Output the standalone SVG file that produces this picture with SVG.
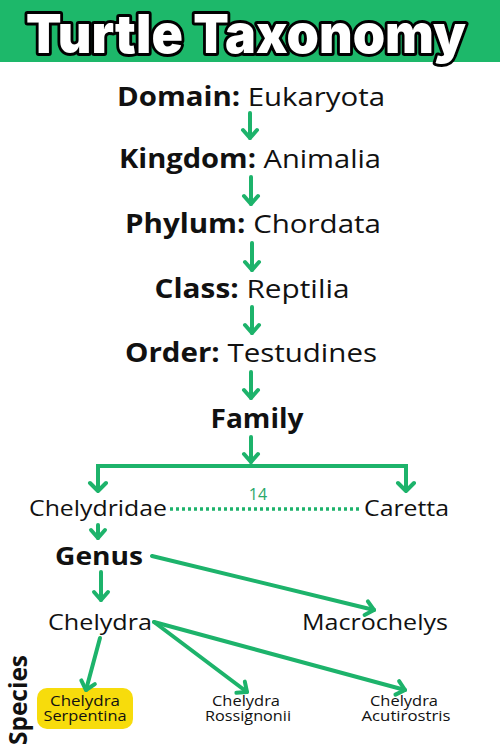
<svg xmlns="http://www.w3.org/2000/svg" width="500" height="750" viewBox="0 0 500 750">
<defs>
<marker id="ah" markerUnits="userSpaceOnUse" markerWidth="24" markerHeight="24" viewBox="-12 -12 24 24" refX="0" refY="0" orient="auto">
<path d="M-8,-7 L0,0 L-8,7" fill="none" stroke="#1db36b" stroke-width="4" stroke-linecap="round" stroke-linejoin="round"/>
</marker>
<style>
.t{font-family:"Open Sans","Liberation Sans",sans-serif;fill:#111;}
.b{font-weight:700;}
.lvl{font-size:26px;}
.c{stroke:#1db36b;stroke-width:4;fill:none;stroke-linecap:round;}
.sp{font-size:15px;}
</style>
</defs>
<rect x="0" y="0" width="500" height="750" fill="#ffffff"/>
<g id="header">
<rect x="0" y="0" width="500" height="62" fill="#1db86a"/>
<text x="246" y="53" text-anchor="middle" font-family="Inter,'Open Sans',sans-serif" font-weight="900" font-size="54" fill="#fff" stroke="#000" stroke-width="6" stroke-linejoin="round" paint-order="stroke" textLength="440" lengthAdjust="spacingAndGlyphs">Turtle Taxonomy</text>
</g>
<g id="domain"><text class="t lvl" x="251" y="106" text-anchor="middle" textLength="268" lengthAdjust="spacingAndGlyphs"><tspan class="b">Domain:</tspan> Eukaryota</text></g>
<g id="kingdom"><text class="t lvl" x="250" y="168" text-anchor="middle" textLength="262" lengthAdjust="spacingAndGlyphs"><tspan class="b">Kingdom:</tspan> Animalia</text></g>
<g id="phylum"><text class="t lvl" x="253" y="233" text-anchor="middle" textLength="256" lengthAdjust="spacingAndGlyphs"><tspan class="b">Phylum:</tspan> Chordata</text></g>
<g id="class"><text class="t lvl" x="252" y="298" text-anchor="middle" textLength="195" lengthAdjust="spacingAndGlyphs"><tspan class="b">Class:</tspan> Reptilia</text></g>
<g id="order"><text class="t lvl" x="251" y="362" text-anchor="middle" textLength="252" lengthAdjust="spacingAndGlyphs"><tspan class="b">Order:</tspan> Testudines</text></g>
<g id="family"><text class="t lvl b" x="257" y="428" text-anchor="middle" textLength="93" lengthAdjust="spacingAndGlyphs">Family</text></g>
<g id="chelydridae"><text class="t" x="29" y="516" font-size="22" textLength="138" lengthAdjust="spacingAndGlyphs">Chelydridae</text></g>
<g id="caretta"><text class="t" x="364" y="516" font-size="22" textLength="85" lengthAdjust="spacingAndGlyphs">Caretta</text></g>
<g id="genus"><text class="t b" x="55" y="565" font-size="25" textLength="88" lengthAdjust="spacingAndGlyphs">Genus</text></g>
<g id="chelydra"><text class="t" x="48" y="630" font-size="22" textLength="104" lengthAdjust="spacingAndGlyphs">Chelydra</text></g>
<g id="macrochelys"><text class="t" x="302" y="630" font-size="22" textLength="146" lengthAdjust="spacingAndGlyphs">Macrochelys</text></g>
<g id="species-label"><text class="t b" transform="translate(27,745) rotate(-90)" font-size="25" textLength="90" lengthAdjust="spacingAndGlyphs">Species</text></g>
<g id="serpentina">
<rect x="37" y="688" width="96" height="41" rx="10" fill="#f7dc0c"/>
<text class="t sp" x="85" y="706" text-anchor="middle" textLength="70" lengthAdjust="spacingAndGlyphs">Chelydra</text>
<text class="t sp" x="85" y="721" text-anchor="middle" textLength="83" lengthAdjust="spacingAndGlyphs">Serpentina</text>
</g>
<g id="rossignonii">
<text class="t sp" x="246" y="706" text-anchor="middle" textLength="68" lengthAdjust="spacingAndGlyphs">Chelydra</text>
<text class="t sp" x="248" y="721" text-anchor="middle" textLength="86" lengthAdjust="spacingAndGlyphs">Rossignonii</text>
</g>
<g id="acutirostris">
<text class="t sp" x="404" y="706" text-anchor="middle" textLength="68" lengthAdjust="spacingAndGlyphs">Chelydra</text>
<text class="t sp" x="406" y="721" text-anchor="middle" textLength="89" lengthAdjust="spacingAndGlyphs">Acutirostris</text>
</g>
<g id="connectors">
<line class="c" x1="250" y1="113" x2="250" y2="138" marker-end="url(#ah)"/>
<line class="c" x1="251" y1="177" x2="251" y2="204" marker-end="url(#ah)"/>
<line class="c" x1="252" y1="243" x2="252" y2="270" marker-end="url(#ah)"/>
<line class="c" x1="252" y1="307" x2="252" y2="333" marker-end="url(#ah)"/>
<line class="c" x1="251" y1="372" x2="251" y2="398" marker-end="url(#ah)"/>
<line class="c" x1="251" y1="437" x2="251" y2="462" marker-end="url(#ah)"/>
<polyline class="c" points="98,490 98,466 406,466 406,490" stroke-linecap="butt"/>
<path d="M90,483 L98,491 L106,483 M398,483 L406,491 L414,483" fill="none" stroke="#1db36b" stroke-width="4" stroke-linecap="round" stroke-linejoin="round"/>
<line x1="170" y1="509" x2="362" y2="509" stroke="#1db36b" stroke-width="3.5" stroke-dasharray="3,3"/>
<text x="258" y="500" text-anchor="middle" font-family="'Open Sans','Liberation Sans',sans-serif" font-size="16" fill="#2aa86a">14</text>
<line class="c" x1="98" y1="525" x2="98" y2="538" marker-end="url(#ah)"/>
<line class="c" x1="152" y1="556" x2="374" y2="610" marker-end="url(#ah)"/>
<line class="c" x1="101" y1="572" x2="101" y2="600" marker-end="url(#ah)"/>
<line class="c" x1="100" y1="638" x2="86" y2="690" marker-end="url(#ah)"/>
<line class="c" x1="154" y1="622" x2="247" y2="692" marker-end="url(#ah)"/>
<line class="c" x1="154" y1="622" x2="405" y2="690" marker-end="url(#ah)"/>
</g>
</svg>
